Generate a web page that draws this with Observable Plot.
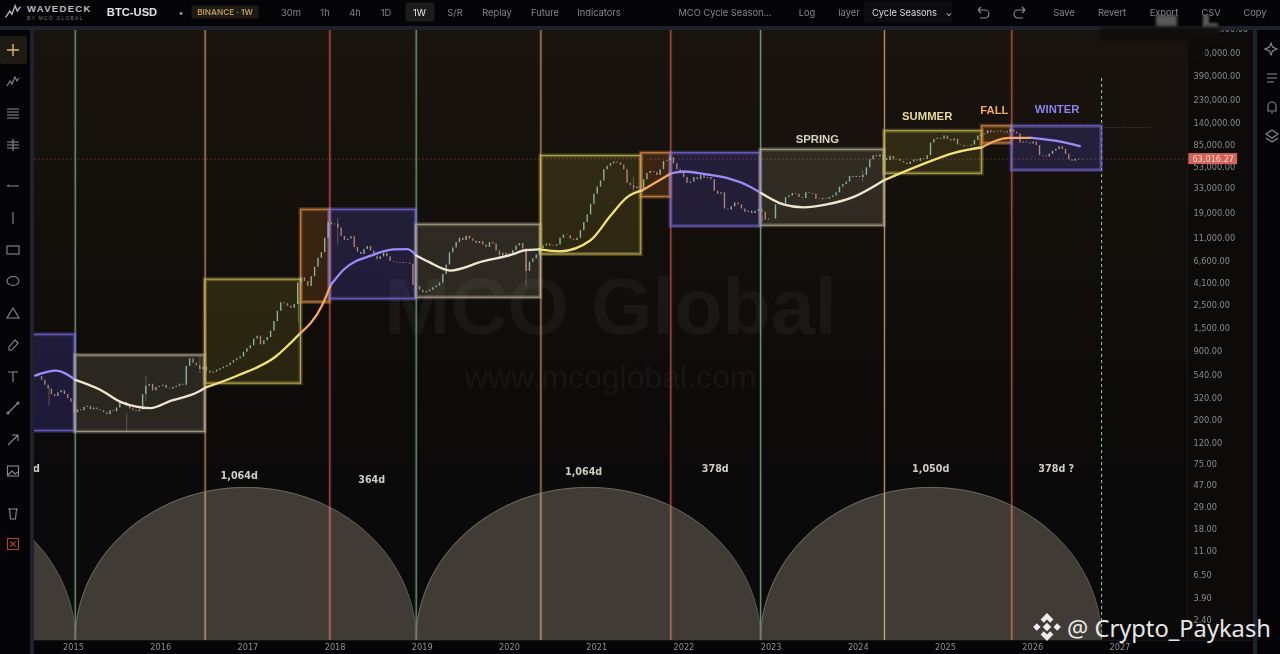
<!DOCTYPE html>
<html><head><meta charset="utf-8">
<script src="https://cdn.jsdelivr.net/npm/d3@7"></script>
<script src="https://cdn.jsdelivr.net/npm/@observablehq/plot@0.6"></script>
<style>
html,body{margin:0;padding:0;background:#050507;overflow:hidden}
#stage{position:relative;width:1280px;height:654px;overflow:hidden;background:#050507;font-family:Inter,Roboto,sans-serif}
#bg{position:absolute;left:34px;top:30px;width:1221px;height:610px;background:linear-gradient(to bottom,#1a140e 0,#15110c 130px,#0f0c0a 300px,#0b0a0a 460px)}
#bg2{position:absolute;left:1187px;top:30px;width:68px;height:610px;background:#0c0b0a;border-left:1px solid #17171a}
#chart{position:absolute;left:0;top:0;filter:blur(.35px)}
#chart svg{display:block;background:transparent!important}
[aria-label="glow"]{filter:blur(3px)}
.strip{position:absolute;background:#1d222c}
.t{position:absolute;top:12px;transform:translate(-50%,-50%);white-space:nowrap;font-size:9.3px;color:#86868a;filter:blur(.25px)}
.ic{position:absolute;transform:translate(-50%,-50%);width:16px;height:16px;fill:none;stroke:#8b8b8d;stroke-width:1.1}
</style></head>
<body><div id="stage">
<div id="bg"></div><div id="bg2"></div>
<div id="chart"></div>
<div id="chrome"></div>
</div>
<script>
// ---- axis values ----
const yearTicks = [2015,2016,2017,2018,2019,2020,2021,2022,2023,2024,2025,2026,2027];
const priceTicks = [1100000,650000,390000,230000,140000,85000,53000,33000,19000,11000,6600,4100,2500,1500,900,540,320,200,120,75,47,29,18,11,6.5,3.9,2.4];
const lastPrice = 63016.27;

// ---- cycle pivots (decimal years) ----
const pivotYears = [2015.02,2016.51,2017.94,2018.93,2020.36,2021.85,2022.88,2024.30,2025.76];
const pivotKinds = ["low","halving","high","low","halving","high","low","halving","high"];
const projectedLow = 2026.79;

// ---- season boxes ----
const boxSeason = ["winter","spring","summer","fall","winter","spring","summer","fall","winter","spring","summer","fall","winter"];
const boxStart  = [2014.0,2015.02,2016.51,2017.61,2017.94,2018.93,2020.36,2021.51,2021.85,2022.88,2024.30,2025.42,2025.76];
const boxEnd    = [2015.02,2016.51,2017.61,2017.94,2018.93,2020.36,2021.51,2021.85,2022.88,2024.30,2025.42,2025.76,2026.79];
const boxHigh   = [1309,830,4407,20620,20620,14810,67550,71900,71900,77420,116700,130300,130300];
const boxLow    = [156,153,445,2668,2870,2960,7690,27220,14260,14490,45600,89000,49050];

// ---- smoothed average line ----
const smaYears = [2014.56,2014.80,2015.02,2015.31,2015.56,2015.88,2016.12,2016.42,2016.51,2016.87,2017.32,2017.60,2017.85,2017.95,2018.10,2018.42,2018.67,2018.83,2018.93,2019.08,2019.32,2019.69,2020.06,2020.16,2020.34,2020.58,2020.93,2021.16,2021.35,2021.52,2021.85,2022.00,2022.27,2022.50,2022.73,2022.88,2023.14,2023.37,2023.64,2023.94,2024.29,2024.69,2025.10,2025.42,2025.73,2025.99,2026.32,2026.54];
const smaPrice = [532,593,484,388,293,260,306,368,408,528,811,1352,2500,3924,5530,7540,8610,8660,7540,6500,5400,6600,7830,8400,8610,8250,10520,18170,27250,31580,45930,48000,44900,41400,35300,30000,23190,21700,23190,27250,39400,54300,72500,81900,100800,100800,92800,84000];

// ---- candle closes, two-weekly, by stretch ----
const closes2014 = [560,520,480,430,395,350,335,365,380,350,320,295,235,250,245,265,270,250,260,250,245,235,225,245,240,260,290,295,270,255,245,240,250,350];
const closes2015 = [420,440,380,410,420,430,400,395,410,420,440,430,650,770,700,660,610,640,590,560,575,600,620,640,660,700,740,770,800];
const closes2017 = [890,960,1030,1190,1270,1050,1150,1230,1420,1750,2200,2650,2600,2450,2350,2550,4100,4600,4250,3800,4700,5800,7100,8000,11000];
const closes2018 = [15500,14800,15000,13800,11500,10500,10800,11400,9000,8100,7700,8600,9200,8300,7400,6900,7300,7900,7300,6600,6500,6400,6300,6400,6350,6200,3900];
const closes2019 = [3800,3500,3300,3400,3500,3700,3850,4100,4950,6100,8000,8900,10000,11000,10500,11500,10800,10300,9800,10200,9500,9000,10000,9700,8300,7500,7900,7300,7800,8400,9300,9800,8700];
const closes2020 = [5300,6500,7000,7600,8800,9300,9700,9300,9200,9500,11000,11800,11700,10800,10500,11000,13000,15600,18400];
const closes2021 = [23300,29000,34000,39000,50000,54000,57000,59000,58000,55000,50000,37000,35000,33000,34000,32000,40000,46000,48000,47000,44000,50000,60000,61000,65000];
const closes2022 = [57000,50000,47000,42000,37000,38000,42000,40000,44000,41000,42000,40000,31000,29000,30000,21000,20500,22000,24000,23000,21000,19500,20000,19000,20000,20800,19500,16500,16800,16800];
const closes2023 = [23000,24000,23500,27000,28000,29500,29000,27000,26500,30000,29500,29000,26000,25800,26500,26000,27000,28000,30000,34000,36000,38000,43000,42000,43000,42000,44000,52000,62000];
const closes2024 = [68000,66000,69000,64000,61000,67000,62000,63000,60000,58000,56000,59000,62000,60000,64000,63000,68000,90000,97000,100000,98000,105000,97000,94000,98000,86000,85000,83000,84000,86000,95000];
const closes2025 = [105000,108000,110000,118000,113000,115000,117000,114000,112000,115000,120000,114000,110000,90000,92000,90000,88000,92000,85000,68000,67000,66000,70000,75000,78000,83000,78000,70000,62000,60000,63000,62000,63016];
const stretchBreaks = [2014.56,2015.83,2016.95,2017.92,2018.93,2020.19,2020.93,2021.88,2023.05,2024.17,2025.37,2026.60];
const stretches = [closes2014,closes2015,closes2017,closes2018,closes2019,closes2020,closes2021,closes2022,closes2023,closes2024,closes2025];

// ---- long wicks ----
const wickYears = [2014.72,2015.61,2015.83,2016.45,2017.58,2018.03,2020.19,2021.42,2022.90,2024.05];
const wickLow   = [270,152,300,560,1700,9500,3800,29000,15500,38000];
const wickHigh  = [400,230,530,800,2700,17000,8700,42000,18000,49000];

// ---- texts ----
const seasonNames = ["SPRING","SUMMER","FALL","WINTER"];
const seasonNameYear = [2023.53,2024.79,2025.56,2026.28];
const seasonNamePrice = [97200,161400,184000,188400];
const durationText = ["1,064d","1,064d","364d","1,064d","378d","1,050d","378d ?"];
const durationYear = [2014.40,2016.90,2018.42,2020.85,2022.36,2024.83,2026.27];
const durationPrice = [68,58.8,53.8,64.2,67.2,67.2,68.6];

// arc outline: share of the cycle, share of the arc's height
const arcShare  = [0,.002,.005,.01,.02,.04,.07,.1,.15,.2,.25,.3,.35,.4,.45,.5,.55,.6,.65,.7,.75,.8,.85,.9,.93,.96,.98,.99,.995,.998,1];
const arcHeight = [0,.089,.141,.199,.28,.392,.51,.6,.714,.8,.866,.917,.954,.98,.995,1,.995,.98,.954,.917,.866,.8,.714,.6,.51,.392,.28,.199,.141,.089,0];
const arcCycles = [[2011.11,2015.02],[2015.02,2018.93],[2018.93,2022.88],[2022.88,2026.79]];
const arcBase = 1.544, arcTop = 45.2;

// ---- colours ----
const seasonStroke = {winter:"#7a6ee6",spring:"#b9b196",summer:"#c9bb56",fall:"#e08f4a"};
const seasonFill   = {winter:"#6558ee",spring:"#d2c8aa",summer:"#d2be46",fall:"#e18232"};
const seasonOpacity= {winter:.2,spring:.15,summer:.15,fall:.19};
const seasonLine   = {winter:"#9a8df8",spring:"#eee6d2",summer:"#efe278",fall:"#f2a763"};
const pivotColor   = {low:"#6aa47f",halving:"#b88c60",high:"#bd5348"};
const seasonText   = {SPRING:"#d8d2c2",SUMMER:"#e6da90",FALL:"#eda767",WINTER:"#8d82ec"};

// ---- tables built from the arrays ----
const boxes = boxSeason.map((s,i)=>({s,x1:boxStart[i],x2:boxEnd[i],y1:boxLow[i],y2:boxHigh[i]}));
const seasonAt = y => (boxes.find(b=>y>=b.x1-.02&&y<b.x2-.02)||boxes[boxes.length-1]).s;
const sma = smaYears.map((x,i)=>({x,y:smaPrice[i],c:seasonLine[seasonAt(x)]}));
const candles=[]; let prev=closes2014[0];
stretches.forEach((arr,k)=>arr.forEach((c,i)=>{
  const x=stretchBreaks[k]+(stretchBreaks[k+1]-stretchBreaks[k])*i/arr.length;
  candles.push({x,open:prev,close:c}); prev=c;
}));
const wicks = wickYears.map((x,i)=>({x,y1:wickLow[i],y2:wickHigh[i]}));
const pivots = pivotYears.map((x,i)=>({x,c:pivotColor[pivotKinds[i]]}));
const arcs = arcCycles.flatMap(([a,b],k)=>arcShare.map((t,i)=>({k,x:a+(b-a)*t,y:arcBase*Math.pow(arcTop/arcBase,arcHeight[i])})));
const seasonLabels = seasonNames.map((t,i)=>({t,x:seasonNameYear[i],y:seasonNamePrice[i]}));
const durations = durationText.map((t,i)=>({t,x:durationYear[i],y:durationPrice[i]}));

const plot = Plot.plot({
  width:1280,height:654,
  marginLeft:34,marginRight:93,marginTop:28,marginBottom:14,
  style:{background:"transparent",overflow:"visible"},
  color:{type:"identity"},
  x:{type:"linear",domain:[2014.553,2027.775],label:null},
  y:{type:"log",domain:[1.544,1124000],label:null},
  marks:[
    Plot.text(["MCO Global"],{x:2021.16,y:2340,text:d=>d,fontSize:79,fontWeight:"bold",fontFamily:"Liberation Sans",fill:"#1a1817"}),
    Plot.text(["www.mcoglobal.com"],{x:2021.16,y:510,text:d=>d,fontSize:32,fontFamily:"Liberation Sans",fill:"#171615"}),
    Plot.ruleY([lastPrice],{stroke:"#6a3a32",strokeWidth:.7,strokeDasharray:"2,2"}),
    Plot.ruleX(pivots,{x:"x",stroke:"c",strokeWidth:3,strokeOpacity:.22,ariaLabel:"glow"}),
    Plot.ruleX(pivots,{x:"x",stroke:"c",strokeWidth:1}),
    Plot.ruleX([projectedLow],{y1:373000,y2:1.544,stroke:"#8ed4a6",strokeWidth:1,strokeDasharray:"3,3"}),
    Plot.ruleY([126600],{x1:2025.76,x2:2027.35,stroke:"#6b6152",strokeWidth:.8,strokeDasharray:"1,2"}),
    Plot.rect(boxes,{x1:"x1",x2:"x2",y1:"y1",y2:"y2",clip:true,fill:d=>seasonFill[d.s],fillOpacity:d=>seasonOpacity[d.s]}),
    Plot.rect(boxes,{x1:"x1",x2:"x2",y1:"y1",y2:"y2",clip:true,fill:"none",stroke:d=>seasonStroke[d.s],strokeWidth:4,strokeOpacity:.3,ariaLabel:"glow"}),
    Plot.rect(boxes,{x1:"x1",x2:"x2",y1:"y1",y2:"y2",clip:true,fill:"none",stroke:d=>seasonStroke[d.s],strokeWidth:1.1,strokeOpacity:.8}),
    Plot.ruleX(wicks,{x:"x",y1:"y1",y2:"y2",stroke:"#a9a69a",strokeWidth:.6,strokeOpacity:.7}),
    Plot.ruleX(candles,{x:"x",y1:"open",y2:"close",stroke:d=>d.close>=d.open?"#a4d6b8":"#cf9c8e",strokeWidth:1.4,strokeOpacity:.8}),
    Plot.line(sma,{x:"x",y:"y",z:null,stroke:"c",strokeWidth:7,strokeOpacity:.45,curve:"monotone-x",ariaLabel:"glow"}),
    Plot.line(sma,{x:"x",y:"y",z:null,stroke:"c",strokeWidth:2.3,curve:"monotone-x"}),
    Plot.areaY(arcs,{x:"x",y1:arcBase,y2:"y",z:"k",clip:true,fill:"#fff0d2",fillOpacity:.22,curve:"catmull-rom"}),
    Plot.line(arcs,{x:"x",y:"y",z:"k",clip:true,stroke:"#76746a",strokeWidth:.8,curve:"catmull-rom"}),
    Plot.text(seasonLabels,{x:"x",y:"y",text:"t",fill:d=>seasonText[d.t],fontSize:11.3,fontWeight:"bold",fontFamily:"Liberation Sans"}),
    Plot.text(durations,{x:"x",y:"y",text:"t",clip:true,fill:"#cfcdc6",fontSize:9.6,fontWeight:"bold",fontFamily:"DejaVu Sans"}),
    Plot.axisX(yearTicks,{anchor:"bottom",tickSize:0,tickPadding:4,tickFormat:"d",label:null,fontSize:8.2,fontFamily:"DejaVu Sans",fill:"#8f8f8f"}),
    Plot.text(priceTicks,{y:d=>d,frameAnchor:"right",textAnchor:"start",dx:6,text:d=>d3.format(",.2f")(d),fontSize:8.2,fontFamily:"DejaVu Sans",fill:"#8c8c8c"}),
    Plot.rect([lastPrice],{x1:2027.79,x2:2028.35,y1:d=>d*.885,y2:d=>d*1.13,fill:"#d4625a"}),
    Plot.text([lastPrice],{x:2028.07,y:d=>d,text:d=>d3.format(",.2f")(d),fill:"#f6d6ce",fontSize:8.2,fontFamily:"DejaVu Sans"})
  ]
});
document.getElementById("chart").append(plot);

// ---- window furniture ----
const labels = [["30m",291],["1h",325],["4h",355],["1D",386],["S/R",455],["Replay",497],["Future",545],["Indicators",599],["MCO Cycle Season...",725],["Log",807],["layer",849],["Save",1064],["Revert",1112],["Export",1164],["CSV",1211],["Copy",1255]];
const topIcons = [[982,'<path d="M4 6h7a3.5 3.5 0 0 1 0 8H6M4 6l3-3M4 6l3 3"/>'],[1021,'<path d="M12 6H5a3.5 3.5 0 0 0 0 8h5M12 6L9 3M12 6L9 9"/>']];
const sideIcons = [
 [81,'<path d="M2 13l3-5 2 3 3-7 2 4 2-3"/>'],[113,'<path d="M2 4h12M2 7h12M2 10h12M2 13h12"/>'],
 [145,'<path d="M2 5h12M2 8h12M2 11h12M8 2v12"/>'],[186,'<path d="M2 8h12M2 8l2-1"/>'],[218,'<path d="M8 2v12"/>'],
 [250,'<rect x="2" y="4" width="12" height="8"/>'],[281,'<ellipse cx="8" cy="8" rx="6" ry="4.5"/>'],[313,'<path d="M8 3l6 10H2z"/>'],
 [345,'<path d="M10 3l3 3-6 7H4v-3z"/>'],[377,'<path d="M3 3h10M8 3v10"/>'],[408,'<path d="M3 13L13 3"/><circle cx="3" cy="13" r="1"/><circle cx="13" cy="3" r="1"/>'],
 [440,'<path d="M3 13L13 3M7 3h6v6"/>'],[471,'<rect x="2.5" y="3" width="11" height="10"/><path d="M3 12l4-4 3 3 3-2"/>'],[513,'<path d="M3 4h10M4.5 4l1 10h5l1-10"/>']];
const rightIcons = [[49,'<path d="M7 2l1.5 4L13 8l-4.5 2L7 14l-1.5-4L1 8l4.500-2z"/>'],[78,'<path d="M3 4h10M3 8h10M3 12h7"/>'],[108,'<path d="M8 2a4 4 0 0 1 4 4v5H4V6a4 4 0 0 1 4-4zM7 13h2"/>'],[136,'<path d="M8 2l6 4-6 4-6-4zM2 10l6 4 6-4"/>']];
const svgIc=(x,y,p,st="")=>`<svg class="ic" viewBox="0 0 16 16" style="left:${x}px;top:${y}px;${st}">${p}</svg>`;
let h = `
<div class="strip" style="left:0;top:26px;width:1280px;height:4px"></div>
<div class="strip" style="left:30px;top:26px;width:4px;height:628px"></div>
<div class="strip" style="left:1253px;top:26px;width:4px;height:628px"></div>
<div style="position:absolute;left:0;top:0;width:1280px;height:26px;background:#050507"></div>
<div style="position:absolute;left:34px;top:640px;width:1219px;height:1px;background:#16161a"></div>
<div style="position:absolute;left:0;top:30px;width:30px;height:624px;background:#050507"></div>
<div style="position:absolute;left:1257px;top:30px;width:23px;height:624px;background:#050507"></div>
<div style="position:absolute;left:0;top:36px;width:27px;height:28px;background:#1f1a14;border-radius:2px"></div>
${svgIc(12.5,50,'<path d="M8 2v12M2 8h12" stroke-width="1.4"/>','stroke:#d8b878')}
${svgIc(13,10.5,'<path d="M1 14l4-6 2 3 3-8 2 5 3-4" stroke-width="1.3"/>','stroke:#b5b5b5;width:17px;height:17px')}
<div style="position:absolute;left:27px;top:3px;font:bold 9.5px 'Liberation Sans';letter-spacing:1.3px;color:#bdbdbd">WAVEDECK</div>
<div style="position:absolute;left:27px;top:15px;font:5px 'Liberation Sans';letter-spacing:1.2px;color:#77777a">BY MCO GLOBAL</div>
<div class="t" style="left:132px;font:bold 11.2px 'Liberation Sans';color:#e4e4e4">BTC-USD</div>
<div class="t" style="left:181px;color:#999">•</div>
<div class="t" style="left:225px;width:67px;height:13px;line-height:13px;text-align:center;background:#1e1a14;border-radius:2px;color:#b9985f;font-size:8.2px;font-weight:600">BINANCE · 1W</div>
<div class="t" style="left:419.500px;width:29px;height:19px;line-height:19px;text-align:center;background:#1c1c1c;border-radius:2px;color:#e8e8e8">1W</div>
<div class="t" style="left:908px;width:88px;height:21px;line-height:21px;background:#0d0d11;color:#dcdcdc;text-align:left;text-indent:8px">Cycle Seasons <span style="font-size:8px;margin-left:6px">⌄</span></div>`;
labels.forEach(([t,x])=>h+=`<div class="t" style="left:${x}px">${t}</div>`);
topIcons.forEach(([x,p])=>h+=svgIc(x,12,p));
sideIcons.forEach(([y,p])=>h+=svgIc(12.5,y,p));
h+=svgIc(12.5,544,'<rect x="2.5" y="2.500" width="11" height="11"/><path d="M5.500 5.500l5 5M10.500 5.500l-5 5"/>','stroke:#a8433a');
rightIcons.forEach(([y,p])=>h+=svgIc(1272,y,p));
// smudges over the screenshot
h+=`<div style="position:absolute;left:1156px;top:15px;width:21px;height:12px;background:#5a5a5a;filter:blur(1.5px)"></div>
<div style="position:absolute;left:1203px;top:15px;width:6px;height:12px;background:#5a5a5a;filter:blur(1px)"></div>
<div style="position:absolute;left:1203px;top:23px;width:15px;height:5px;background:#5a5a5a;filter:blur(1px)"></div>
<div style="position:absolute;left:1100px;top:27px;width:120px;height:15px;background:#100d0b;filter:blur(2px)"></div>
<div style="position:absolute;left:1188px;top:45px;width:17px;height:16px;background:#0e0c0a;filter:blur(1.500px)"></div>`;
// credit
h+=`<svg style="position:absolute;left:1032px;top:612px;width:30px;height:30px" viewBox="0 0 28 28" fill="#ececec"><path d="M14 1l6 6-3 3-3-3-3 3-3-3zM14 27l6-6-3-3-3 3-3-3-3 3zM1 14l3.500-3.500L8 14l-3.500 3.500zM27 14l-3.500-3.500L20 14l3.500 3.500zM14 10l4 4-4 4-4-4z"/></svg>
<div style="position:absolute;left:1067px;top:628px;transform:translateY(-50%);font:23.700px 'Noto Sans';color:#e8e8e8;white-space:nowrap">@ Crypto_Paykash</div>`;
document.getElementById("chrome").innerHTML=h;
</script>
</body></html>
